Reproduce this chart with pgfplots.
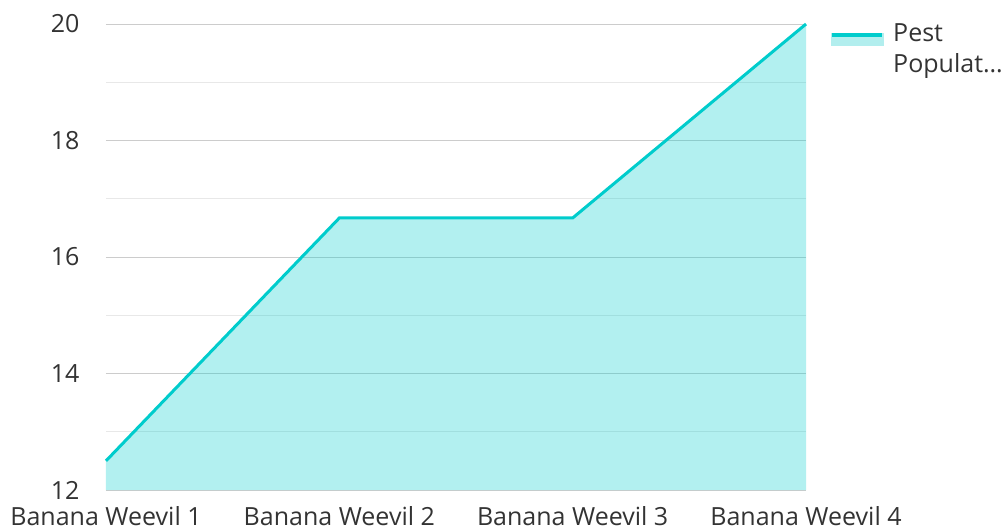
\documentclass[border=0pt]{standalone}
\usepackage{fontspec}
\setmainfont{Open Sans}
\usepackage{pgfplots}
\pgfplotsset{compat=1.18}
\definecolor{lineC}{HTML}{00CCCC}
\definecolor{fillC}{HTML}{B2EEEE}
\definecolor{txt}{HTML}{333333}
\begin{document}
\fontsize{25pt}{30pt}\selectfont
\begin{tikzpicture}
\useasboundingbox (-106pt,-41pt) rectangle (898pt,490pt);
\begin{axis}[
  at={(0,0)}, anchor=south west,
  scale only axis, width=700pt, height=466pt,
  xmin=0, xmax=3, ymin=12, ymax=20,
  xtick={0,1,2,3},
  xticklabels={Banana Weevil 1,Banana Weevil 2,Banana Weevil 3,Banana Weevil 4},
  ytick={12,14,16,18,20},
  minor ytick={13,15,17,19},
  ymajorgrids, yminorgrids,
  major grid style={color=black!20, line width=1pt},
  minor grid style={color=black!9, line width=1pt},
  axis line style={draw=none},
  major tick length=0pt, minor tick length=0pt,
  tick label style={font=\fontsize{25pt}{30pt}\selectfont, text=txt},
  /pgf/number format/assume math mode=true,
  yticklabel style={xshift=-18pt},
  xticklabel style={yshift=-8pt},
  clip=false,
  legend style={at={(rel axis cs:1,1)}, anchor=north west, xshift=24pt, yshift=1pt,
    draw=none, fill=none, font=\fontsize{25pt}{31pt}\selectfont, text=txt,
    nodes={align=left, inner sep=0pt}, inner sep=0pt, row sep=0pt,
    /tikz/every odd column/.style={column sep=9pt}},
  legend cell align=left,
]
\addplot[draw=none, fill=lineC, fill opacity=0.3, forget plot] coordinates {(0,12.5) (1,16.67) (2,16.67) (3,20)} \closedcycle;
\addplot[lineC, line width=3pt,
  legend image code/.code={
    \fill[fillC] (0pt,5pt) rectangle (50pt,15pt);
    \draw[lineC, line width=4pt] (0pt,15pt) -- (50pt,15pt);
  }] coordinates {(0,12.5) (1,16.67) (2,16.67) (3,20)};
\addlegendentry{Pest\\Populat…}
\end{axis}
\end{tikzpicture}
\end{document}
